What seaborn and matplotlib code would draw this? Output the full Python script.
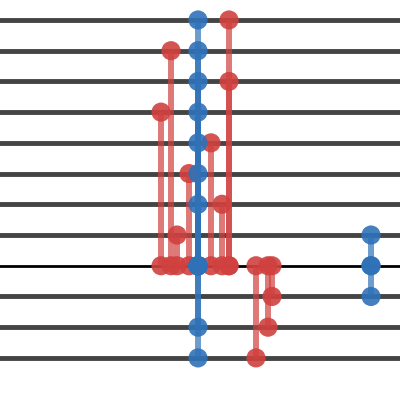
import matplotlib
matplotlib.use("Agg")
import matplotlib.pyplot as plt
import seaborn as sns
import pandas as pd

n_rows = 12
control_row = 8

# gates: x position, target row, colour group
gate_x = [161, 171, 177, 189, 211, 222, 229, 229, 256, 268, 272,
          198, 198, 198, 198, 198, 198, 198, 198, 198, 371, 371]
gate_row = [3, 1, 7, 5, 4, 6, 0, 2, 11, 10, 9,
            0, 1, 2, 3, 4, 5, 6, 10, 11, 7, 9]
gate_kind = ["red"] * 11 + ["blue"] * 11

palette = {"red": "#d0413f", "blue": "#2f72b8"}

fig = plt.figure(figsize=(4, 4), dpi=100)
ax = fig.add_axes([0, 0, 1, 1])

for r in range(n_rows):
    if r == control_row:
        ax.axhline(r, color="black", lw=2, zorder=1)
    else:
        ax.axhline(r, color="#444444", lw=3.5, zorder=1)

for x, r, k in zip(gate_x, gate_row, gate_kind):
    ax.plot([x, x], [control_row, r], color=palette[k], lw=4.3, alpha=0.7,
            solid_capstyle="butt", zorder=2)

pts = pd.DataFrame({
    "x": gate_x + gate_x,
    "row": gate_row + [control_row] * len(gate_x),
    "kind": gate_kind + gate_kind,
})
sns.scatterplot(data=pts, x="x", y="row", hue="kind", palette=palette,
                s=190, alpha=0.9, linewidth=0, legend=False, ax=ax, zorder=3)

ax.set_xlim(0, 400)
ax.set_ylim(12.37, -0.65)
ax.axis("off")
fig.savefig("out.png", dpi=100)
